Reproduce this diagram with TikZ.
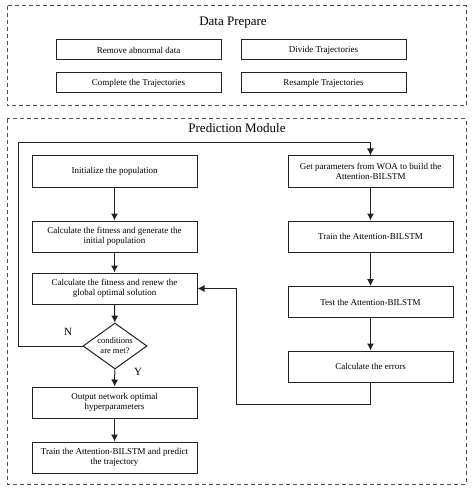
\documentclass[tikz,border=0pt]{standalone}
\usepackage{fontspec}
\setmainfont{Liberation Serif}
\usetikzlibrary{shapes.geometric,arrows.meta}
\definecolor{ln}{HTML}{222222}
\begin{document}
\begin{tikzpicture}[x=1pt,y=-1pt,
  dashbox/.style={draw=ln!80,line width=1pt,dash pattern=on 4pt off 3pt},
  dbox/.style={draw=ln,line width=1pt,minimum width=165pt,minimum height=20pt,inner sep=0pt,font=\fontsize{9}{10.5}\selectfont,align=center},
  fbox/.style={draw=ln,line width=1pt,minimum width=165pt,minimum height=31pt,inner sep=0pt,font=\fontsize{9}{10.5}\selectfont,align=center},
  dia/.style={draw=ln,line width=1pt,diamond,aspect=1.39,minimum width=64pt,minimum height=46pt,inner sep=0pt,font=\fontsize{8.5}{10}\selectfont,align=center},
  arr/.style={draw=ln,line width=1pt,-{Latex[length=7pt,width=7pt]}},
  ttl/.style={font=\fontsize{13}{15}\selectfont},
  lbl/.style={font=\fontsize{11}{13}\selectfont}]
\useasboundingbox (0,0) rectangle (474,494);
\draw[dashbox] (7,6) rectangle (466,106);
\draw[dashbox] (7,119) rectangle (466,484);
\node[ttl] (t1) at (233,23) {Data Prepare};
\node[ttl] (t2) at (237,128) {Prediction Module};
\node[dbox] (rem) at (138.5,50) {Remove abnormal data};
\node[dbox] (div) at (323.5,50) {Divide Trajectories};
\node[dbox] (comp) at (138.5,83) {Complete the Trajectories};
\node[dbox] (res) at (323.5,83) {Resample Trajectories};
\node[fbox] (init) at (114.5,171.5) {Initialize the population};
\node[fbox] (gen) at (114.5,236.5) {Calculate the fitness and generate the\\initial population};
\node[fbox] (renew) at (114.5,288.5) {Calculate the fitness and renew the\\global optimal solution};
\node[dia] (cond) at (115,346) {conditions\\are met?};
\node[fbox] (out) at (114.5,402.5) {Output network optimal\\hyperparameters};
\node[fbox] (trainp) at (114.5,457.5) {Train the Attention-BILSTM and predict\\the trajectory};
\node[fbox] (get) at (370.5,171.5) {Get parameters from WOA to build the\\Attention-BILSTM};
\node[fbox] (train) at (370.5,236.5) {Train the Attention-BILSTM};
\node[fbox] (test) at (370.5,302) {Test the Attention-BILSTM};
\node[fbox] (err) at (370.5,366.5) {Calculate the errors};
\node[lbl] (N) at (68,332) {N};
\node[lbl] (Y) at (138,372) {Y};
\coordinate (nl) at (18,143);
\coordinate (bl) at (236,404);
\draw[arr] (init) -- (gen);
\draw[arr] (gen) -- (renew);
\draw[arr] (renew) -- (cond);
\draw[arr] (cond) -- (out);
\draw[arr] (out) -- (trainp);
\draw[arr] (cond.west) -| (nl) -| (get.north);
\draw[arr] (get) -- (train);
\draw[arr] (train) -- (test);
\draw[arr] (test) -- (err);
\draw[arr] (err.south) |- (bl) |- (renew.east);
\end{tikzpicture}
\end{document}
